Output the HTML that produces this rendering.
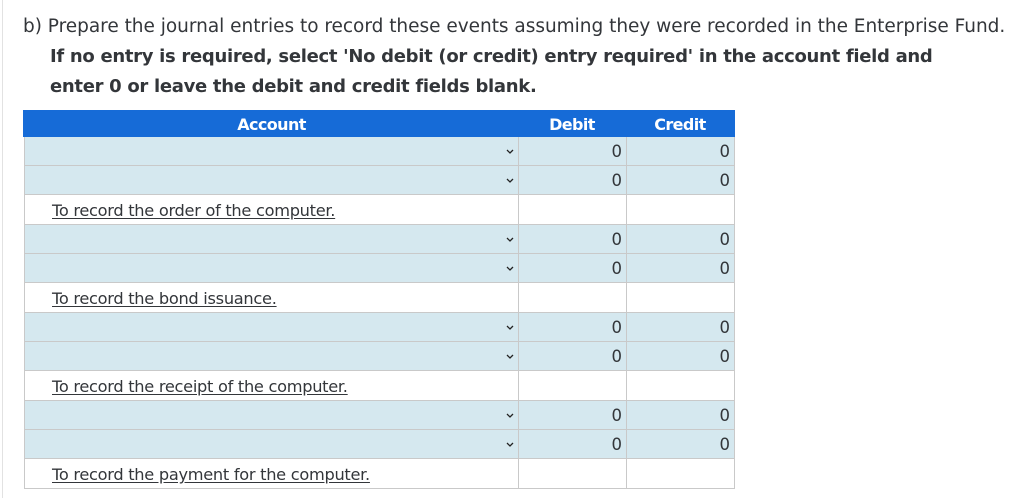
<!DOCTYPE html>
<html lang="en">
<head>
<meta charset="utf-8">
<title>Journal entries</title>
<style>
html,body{margin:0;padding:0;background:#fff}
#page{position:relative;width:1020px;height:498px;overflow:hidden;background:#fff;font-family:"DejaVu Sans","Liberation Sans",sans-serif;color:#33363a}
.rail{position:absolute;left:2px;top:0;width:1px;height:498px;background:#e2e2e2}
.t{position:absolute;white-space:nowrap;transform-origin:0 0}
.q{font-size:18.5px;line-height:24px}
.b{font-weight:700;font-size:18px;line-height:24px}
.head{position:absolute;left:23px;top:110px;width:712px;height:27px;background:#166bd7}
.h{position:absolute;top:0;height:27px;line-height:29px;color:#fff;font-weight:700;font-size:16px;text-align:center;letter-spacing:-.6px}
.row{position:absolute;left:24px;width:711px;box-sizing:border-box;border-left:1px solid #c9c9c9;border-right:1px solid #c9c9c9;border-bottom:1px solid #c9c9c9}
.e{background:#d5e8ef}
.n{background:#fff}
.c1,.c2{position:absolute;top:0;bottom:0;width:1px;background:#c9c9c9}
.c1{left:493px}.c2{left:601px}
.v{position:absolute;top:5px;font-size:16.5px;line-height:20px;width:40px;text-align:right;color:#33363a}
.d{left:557px}.k{left:665px}
.chev{position:absolute;left:480px;top:11px;width:10px;height:7px}
.note{position:absolute;left:27px;top:4px;font-size:16.2px;line-height:24px;white-space:nowrap;text-decoration:underline;text-underline-offset:2px;letter-spacing:-.28px;color:#33363a}
</style>
</head>
<body>
<div id="page">
<div class="rail"></div>
<div class="t q" style="left:23px;top:15px;letter-spacing:-.02px">b) Prepare the journal entries to record these events assuming they were recorded in the Enterprise Fund.</div>
<div class="t b" style="left:50px;top:45px;letter-spacing:-.3px">If no entry is required, select 'No debit (or credit) entry required' in the account field and</div>
<div class="t b" style="left:50px;top:75px;letter-spacing:-.3px">enter 0 or leave the debit and credit fields blank.</div>

<div class="head">
<div class="h" style="left:2px;width:493px">Account</div>
<div class="h" style="left:495px;width:108px">Debit</div>
<div class="h" style="left:603px;width:108px">Credit</div>
</div>

<div class="row e" style="top:137px;height:29px"><i class="c1"></i><i class="c2"></i>
<svg class="chev" viewBox="0 0 10 7"><path d="M2 2L5 5L8 2" fill="none" stroke="#222" stroke-width="1.3"/></svg>
<div class="v d">0</div><div class="v k">0</div></div>
<div class="row e" style="top:166px;height:29px"><i class="c1"></i><i class="c2"></i>
<svg class="chev" viewBox="0 0 10 7"><path d="M2 2L5 5L8 2" fill="none" stroke="#222" stroke-width="1.3"/></svg>
<div class="v d">0</div><div class="v k">0</div></div>
<div class="row n" style="top:195px;height:30px"><i class="c1"></i><i class="c2"></i><div class="note">To record the order of the computer.</div></div>

<div class="row e" style="top:225px;height:29px"><i class="c1"></i><i class="c2"></i>
<svg class="chev" viewBox="0 0 10 7"><path d="M2 2L5 5L8 2" fill="none" stroke="#222" stroke-width="1.3"/></svg>
<div class="v d">0</div><div class="v k">0</div></div>
<div class="row e" style="top:254px;height:29px"><i class="c1"></i><i class="c2"></i>
<svg class="chev" viewBox="0 0 10 7"><path d="M2 2L5 5L8 2" fill="none" stroke="#222" stroke-width="1.3"/></svg>
<div class="v d">0</div><div class="v k">0</div></div>
<div class="row n" style="top:283px;height:30px"><i class="c1"></i><i class="c2"></i><div class="note">To record the bond issuance.</div></div>

<div class="row e" style="top:313px;height:29px"><i class="c1"></i><i class="c2"></i>
<svg class="chev" viewBox="0 0 10 7"><path d="M2 2L5 5L8 2" fill="none" stroke="#222" stroke-width="1.3"/></svg>
<div class="v d">0</div><div class="v k">0</div></div>
<div class="row e" style="top:342px;height:29px"><i class="c1"></i><i class="c2"></i>
<svg class="chev" viewBox="0 0 10 7"><path d="M2 2L5 5L8 2" fill="none" stroke="#222" stroke-width="1.3"/></svg>
<div class="v d">0</div><div class="v k">0</div></div>
<div class="row n" style="top:371px;height:30px"><i class="c1"></i><i class="c2"></i><div class="note">To record the receipt of the computer.</div></div>

<div class="row e" style="top:401px;height:29px"><i class="c1"></i><i class="c2"></i>
<svg class="chev" viewBox="0 0 10 7"><path d="M2 2L5 5L8 2" fill="none" stroke="#222" stroke-width="1.3"/></svg>
<div class="v d">0</div><div class="v k">0</div></div>
<div class="row e" style="top:430px;height:29px"><i class="c1"></i><i class="c2"></i>
<svg class="chev" viewBox="0 0 10 7"><path d="M2 2L5 5L8 2" fill="none" stroke="#222" stroke-width="1.3"/></svg>
<div class="v d">0</div><div class="v k">0</div></div>
<div class="row n" style="top:459px;height:30px"><i class="c1"></i><i class="c2"></i><div class="note">To record the payment for the computer.</div></div>
</div>
</body>
</html>
